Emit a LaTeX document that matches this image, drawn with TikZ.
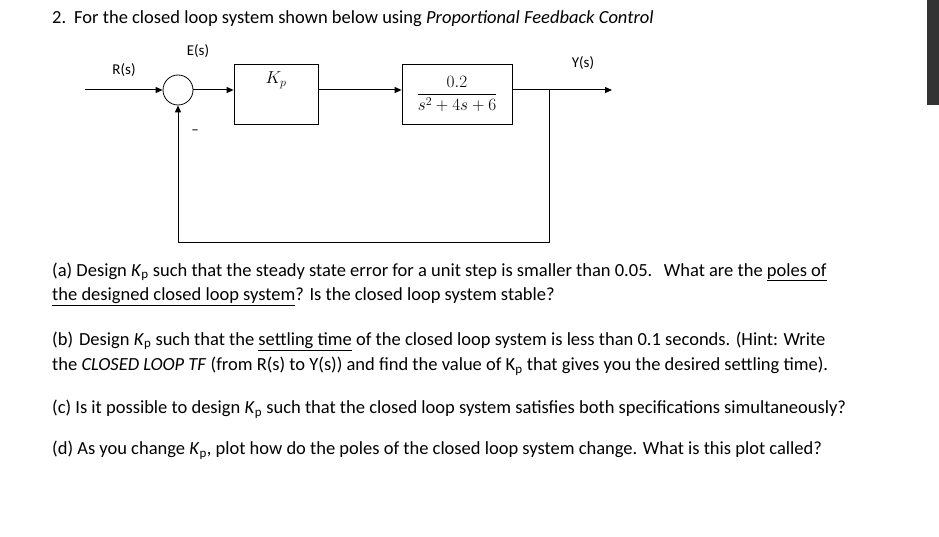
\documentclass[tikz,border=0pt]{standalone}
\usepackage{fontspec}
\setmainfont{Carlito}
\usetikzlibrary{arrows.meta}
\begin{document}
\begin{tikzpicture}[x=1pt,y=-1pt,
  blk/.style={draw,line width=0.8pt,minimum width=84pt,minimum height=60pt,inner sep=0pt},
  ln/.style={line width=1pt},
  arr/.style={ln,-{Triangle[length=7pt,width=6pt]}},
  lbl/.style={font=\fontsize{15}{17}\selectfont},
  mth/.style={font=\fontsize{17}{20}\selectfont},
  txt/.style={anchor=west,inner sep=0pt,font=\fontsize{18.5}{21}\selectfont}]
\useasboundingbox (0,0) rectangle (939,537);
\fill[white] (0,0) rectangle (939,537);
\fill[black!80] (927,0) rectangle (939,105);
% diagram
\coordinate (in) at (85,90);
\node[draw,circle,line width=0.8pt,minimum size=30pt,inner sep=0pt] (sum) at (178,90) {};
\node[blk] (kp) at (276,94) {};
\node[mth] at (276,80) {$K_p$};
\node[blk,minimum width=110pt,mth] (g) at (457,94) {$\displaystyle\frac{0.2}{s^2+4s+6}$};
\coordinate (br) at (549,90);
\coordinate (out) at (612,90);
\coordinate (bl) at (549,243);
\coordinate (bb) at (178,243);
\draw[arr] (in) -- (sum.west);
\draw[arr] (sum.east) -- (kp.west|-sum.east);
\draw[arr] (kp.east|-sum.east) -- (g.west|-sum.east);
\draw[arr] (g.east|-sum.east) -- (out);
\draw[arr] (br) -- (bl) -- (bb) -- (sum.south);
\node[lbl] (r) at (124,70) {R(s)};
\node[lbl] (e) at (198,51) {E(s)};
\node[lbl] (y) at (583,63) {Y(s)};
\node[lbl] (m) at (195,132) {–};
% text
\node[txt] (t0) at (52,19) {2.\hspace{8pt}For the closed loop system shown below using \textit{Proportional Feedback Control}};
\node[txt] (a1) at (52,272) {(a) Design \textit{K}\textsubscript{p} such that the steady state error for a unit step is smaller than 0.05.\hspace{6pt} What are the \underline{poles of}};
\node[txt] (a2) at (52,297) {\underline{the designed closed loop system}? Is the closed loop system stable?};
\node[txt] (b1) at (52,341) {(b)\hspace{6pt}Design \textit{K}\textsubscript{p} such that the \underline{settling time} of the closed loop system is less than 0.1 seconds. (Hint: Write};
\node[txt] (b2) at (52,366) {the \textit{CLOSED LOOP TF} (from R(s) to Y(s)) and find the value of K\textsubscript{p} that gives you the desired settling time).};
\node[txt] (c1) at (52,409) {(c) Is it possible to design \textit{K}\textsubscript{p} such that the closed loop system satisfies both specifications simultaneously?};
\node[txt] (d1) at (52,450) {(d) As you change \textit{K}\textsubscript{p}, plot how do the poles of the closed loop system change. What is this plot called?};
\end{tikzpicture}
\end{document}
